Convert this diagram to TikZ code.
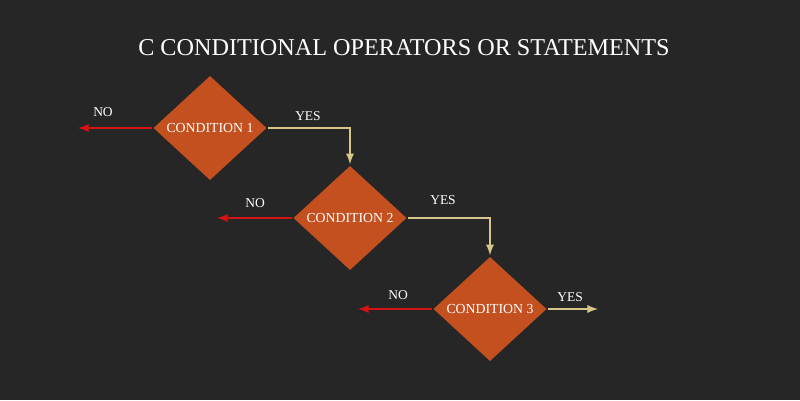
\documentclass[tikz,border=0pt]{standalone}
\usepackage{fontspec}
\setmainfont{Liberation Serif}
\usetikzlibrary{shapes.geometric}
\definecolor{board}{HTML}{262626}
\definecolor{rust}{HTML}{C4501F}
\definecolor{nored}{HTML}{D41414}
\definecolor{yesgold}{HTML}{D6C68A}
\begin{document}
\begin{tikzpicture}[x = 1pt, y = -1pt, line width = 2.6pt,
                        cond/.style = {diamond, fill = rust, text = white, inner sep = 0pt, aspect = 1.09,
                                       minimum width = 114pt, minimum height = 105pt,
                                       font = \fontsize{13.8}{16}\selectfont},
                        word/.style = {text = white, font = \fontsize{13.5}{16}\selectfont},
                        nope/.style = {draw = nored, -latex},
                        yep/.style = {draw = yesgold, -latex}]
      \fill [board] (0, 0) rectangle (800, 400);
      \useasboundingbox (0, 0) rectangle (800, 400);
      \node [text = white, font = \fontsize{24.2}{29}\selectfont] (title) at (404, 48){C CONDITIONAL OPERATORS OR STATEMENTS};
      \node [cond] (c1) at (210, 128){CONDITION 1};
      \node [cond] (c2) at (350, 218){CONDITION 2};
      \node [cond] (c3) at (490, 309){CONDITION 3};
      \coordinate (n1) at (78, 128);
      \coordinate (n2) at (217, 218);
      \coordinate (n3) at (358, 309);
      \coordinate (y3) at (598, 309);
      \node [word] (no1) at (103, 112){NO};
      \node [word] (no2) at (255, 203){NO};
      \node [word] (no3) at (398, 295){NO};
      \node [word] (yes1) at (308, 116){YES};
      \node [word] (yes2) at (443, 200){YES};
      \node [word] (yes3) at (570, 297){YES};
      \draw [nope] (c1.west) -- (n1);
      \draw [nope] (c2.west) -- (n2);
      \draw [nope] (c3.west) -- (n3);
      \draw [yep] (c1.east) -| (c2.north);
      \draw [yep] (c2.east) -| (c3.north);
      \draw [yep] (c3.east) -- (y3);
    \end{tikzpicture}
\end{document}
